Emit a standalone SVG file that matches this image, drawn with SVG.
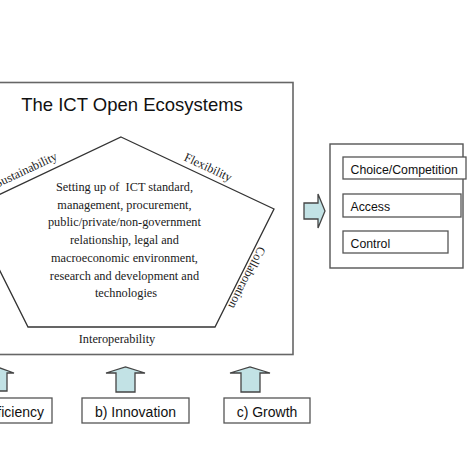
<svg xmlns="http://www.w3.org/2000/svg" width="474" height="474" viewBox="0 0 474 474">
<defs>
<style>
.box{fill:#fff;stroke:#666;stroke-width:1.6}
.ibox{fill:#fff;stroke:#555;stroke-width:1.3}
.pent{fill:none;stroke:#333;stroke-width:1.3}
.arr{fill:#C2E2E5;stroke:#444;stroke-width:1.3;stroke-linejoin:miter}
.sans{font-family:"Liberation Sans",Arial,sans-serif;fill:#111}
.serif{font-family:"Liberation Serif","Times New Roman",serif;fill:#1a1a1a;font-size:12.3px}
</style>
</defs>
<rect width="474" height="474" fill="#fff"/>
<g id="ecosystem">
<rect class="box" x="-5" y="82.5" width="298" height="272"/>
<text class="sans" x="132" y="111" font-size="18.5" text-anchor="middle">The ICT Open Ecosystems</text>
</g>
<g id="pentagon">
<polygon class="pent" points="121,137 274,209 215,327 28,327 -31,209"/>
<text class="serif" text-anchor="middle">
<tspan x="126" y="191">Setting up of&#160; ICT standard,</tspan>
<tspan x="126" y="208.7">management, procurement,</tspan>
<tspan x="126" y="226.4">public/private/non-government</tspan>
<tspan x="126" y="244.1">relationship, legal and</tspan>
<tspan x="126" y="261.8">macroeconomic environment,</tspan>
<tspan x="126" y="279.5">research and development and</tspan>
<tspan x="126" y="297.2">technologies</tspan>
</text>
<text class="serif" text-anchor="middle" transform="translate(27.5,173.5) rotate(-25.3)">Sustainability</text>
<text class="serif" text-anchor="middle" transform="translate(206.5,171) rotate(25.2)">Flexibility</text>
<text class="serif" text-anchor="middle" transform="translate(243.5,276) rotate(117)">Collaboration</text>
<text class="serif" x="117" y="343" text-anchor="middle">Interoperability</text>
</g>
<g id="outcomes">
<rect class="box" x="330" y="144" width="133" height="124" style="stroke:#555;stroke-width:1.4"/>
</g>
<g id="choice">
<rect class="ibox" x="343" y="157" width="123" height="22"/>
<text class="sans" x="350.5" y="173.5" font-size="12.3">Choice/Competition</text>
</g>
<g id="access">
<rect class="ibox" x="343" y="194" width="118" height="23"/>
<text class="sans" x="350.5" y="210.5" font-size="12.3">Access</text>
</g>
<g id="control">
<rect class="ibox" x="343" y="231" width="105" height="22"/>
<text class="sans" x="350.5" y="247.5" font-size="12.3">Control</text>
</g>
<g id="efficiency">
<rect class="ibox" x="-42" y="398" width="94" height="25"/>
<text class="sans" x="44" y="416.5" font-size="14" text-anchor="end">a) Efficiency</text>
</g>
<g id="innovation">
<rect class="ibox" x="82" y="398" width="107" height="25"/>
<text class="sans" x="135.5" y="416.5" font-size="14" text-anchor="middle">b) Innovation</text>
</g>
<g id="growth">
<rect class="ibox" x="224" y="398" width="86" height="25"/>
<text class="sans" x="267" y="416.5" font-size="14" text-anchor="middle">c) Growth</text>
</g>
<g id="connectors">
<polygon class="arr" points="304,203 318,203 318,194 325,211 318,228 318,219 304,219"/>
<polygon class="arr" points="-12,391 -12,373 -26,373 -3,367 14,373 7,373 7,391"/>
<polygon class="arr" points="116,392 116,373 106,373 125.5,367 145,373 135,373 135,392"/>
<polygon class="arr" points="241,392 241,373 230,373 250,367 270,373 260,373 260,392"/>
</g>
</svg>
